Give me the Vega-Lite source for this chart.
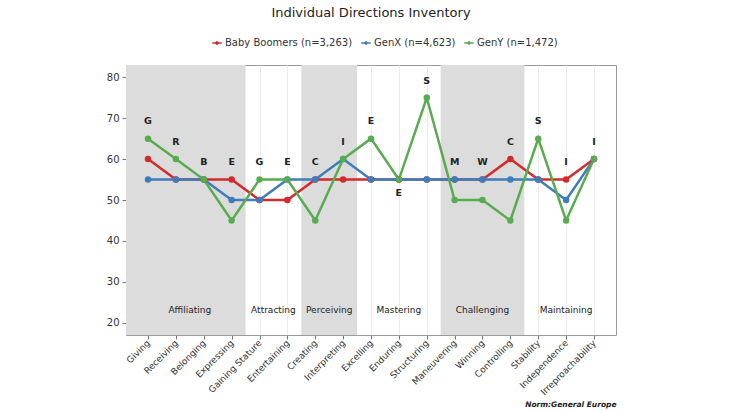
{
  "$schema": "https://vega.github.io/schema/vega-lite/v6.json",
  "width": 490,
  "height": 270,
  "autosize": {"type": "none"},
  "padding": {"left": 126, "top": 65, "right": 113, "bottom": 76},
  "background": "white",
  "title": {
    "text": "Individual Directions Inventory",
    "font": "DejaVu Sans",
    "fontSize": 13,
    "fontWeight": "normal",
    "color": "#222222",
    "anchor": "middle",
    "frame": "group",
    "offset": 18
  },
  "config": {
    "view": {"stroke": "#9a9a9a", "strokeWidth": 1},
    "font": "DejaVu Sans",
    "axis": {
      "labelFont": "DejaVu Sans",
      "labelColor": "#333333",
      "gridColor": "#ebebeb",
      "gridWidth": 1,
      "tickColor": "#777777",
      "tickSize": 4,
      "domain": false,
      "zindex": 1
    },
    "axisX": {"labelOverlap": false, "tickCount": 17}
  },
  "datasets": {
    "scores": [
      {"idx": 0, "direction": "Giving", "series": "Baby Boomers (n=3,263)", "value": 60},
      {"idx": 1, "direction": "Receiving", "series": "Baby Boomers (n=3,263)", "value": 55},
      {"idx": 2, "direction": "Belonging", "series": "Baby Boomers (n=3,263)", "value": 55},
      {"idx": 3, "direction": "Expressing", "series": "Baby Boomers (n=3,263)", "value": 55},
      {"idx": 4, "direction": "Gaining Stature", "series": "Baby Boomers (n=3,263)", "value": 50},
      {"idx": 5, "direction": "Entertaining", "series": "Baby Boomers (n=3,263)", "value": 50},
      {"idx": 6, "direction": "Creating", "series": "Baby Boomers (n=3,263)", "value": 55},
      {"idx": 7, "direction": "Interpreting", "series": "Baby Boomers (n=3,263)", "value": 55},
      {"idx": 8, "direction": "Excelling", "series": "Baby Boomers (n=3,263)", "value": 55},
      {"idx": 9, "direction": "Enduring", "series": "Baby Boomers (n=3,263)", "value": 55},
      {"idx": 10, "direction": "Structuring", "series": "Baby Boomers (n=3,263)", "value": 55},
      {"idx": 11, "direction": "Maneuvering", "series": "Baby Boomers (n=3,263)", "value": 55},
      {"idx": 12, "direction": "Winning", "series": "Baby Boomers (n=3,263)", "value": 55},
      {"idx": 13, "direction": "Controlling", "series": "Baby Boomers (n=3,263)", "value": 60},
      {"idx": 14, "direction": "Stability", "series": "Baby Boomers (n=3,263)", "value": 55},
      {"idx": 15, "direction": "Independence", "series": "Baby Boomers (n=3,263)", "value": 55},
      {"idx": 16, "direction": "Irreproachability", "series": "Baby Boomers (n=3,263)", "value": 60},
      {"idx": 0, "direction": "Giving", "series": "GenX (n=4,623)", "value": 55},
      {"idx": 1, "direction": "Receiving", "series": "GenX (n=4,623)", "value": 55},
      {"idx": 2, "direction": "Belonging", "series": "GenX (n=4,623)", "value": 55},
      {"idx": 3, "direction": "Expressing", "series": "GenX (n=4,623)", "value": 50},
      {"idx": 4, "direction": "Gaining Stature", "series": "GenX (n=4,623)", "value": 50},
      {"idx": 5, "direction": "Entertaining", "series": "GenX (n=4,623)", "value": 55},
      {"idx": 6, "direction": "Creating", "series": "GenX (n=4,623)", "value": 55},
      {"idx": 7, "direction": "Interpreting", "series": "GenX (n=4,623)", "value": 60},
      {"idx": 8, "direction": "Excelling", "series": "GenX (n=4,623)", "value": 55},
      {"idx": 9, "direction": "Enduring", "series": "GenX (n=4,623)", "value": 55},
      {"idx": 10, "direction": "Structuring", "series": "GenX (n=4,623)", "value": 55},
      {"idx": 11, "direction": "Maneuvering", "series": "GenX (n=4,623)", "value": 55},
      {"idx": 12, "direction": "Winning", "series": "GenX (n=4,623)", "value": 55},
      {"idx": 13, "direction": "Controlling", "series": "GenX (n=4,623)", "value": 55},
      {"idx": 14, "direction": "Stability", "series": "GenX (n=4,623)", "value": 55},
      {"idx": 15, "direction": "Independence", "series": "GenX (n=4,623)", "value": 50},
      {"idx": 16, "direction": "Irreproachability", "series": "GenX (n=4,623)", "value": 60},
      {"idx": 0, "direction": "Giving", "series": "GenY (n=1,472)", "value": 65},
      {"idx": 1, "direction": "Receiving", "series": "GenY (n=1,472)", "value": 60},
      {"idx": 2, "direction": "Belonging", "series": "GenY (n=1,472)", "value": 55},
      {"idx": 3, "direction": "Expressing", "series": "GenY (n=1,472)", "value": 45},
      {"idx": 4, "direction": "Gaining Stature", "series": "GenY (n=1,472)", "value": 55},
      {"idx": 5, "direction": "Entertaining", "series": "GenY (n=1,472)", "value": 55},
      {"idx": 6, "direction": "Creating", "series": "GenY (n=1,472)", "value": 45},
      {"idx": 7, "direction": "Interpreting", "series": "GenY (n=1,472)", "value": 60},
      {"idx": 8, "direction": "Excelling", "series": "GenY (n=1,472)", "value": 65},
      {"idx": 9, "direction": "Enduring", "series": "GenY (n=1,472)", "value": 55},
      {"idx": 10, "direction": "Structuring", "series": "GenY (n=1,472)", "value": 75},
      {"idx": 11, "direction": "Maneuvering", "series": "GenY (n=1,472)", "value": 50},
      {"idx": 12, "direction": "Winning", "series": "GenY (n=1,472)", "value": 50},
      {"idx": 13, "direction": "Controlling", "series": "GenY (n=1,472)", "value": 45},
      {"idx": 14, "direction": "Stability", "series": "GenY (n=1,472)", "value": 65},
      {"idx": 15, "direction": "Independence", "series": "GenY (n=1,472)", "value": 45},
      {"idx": 16, "direction": "Irreproachability", "series": "GenY (n=1,472)", "value": 60}
    ],
    "groups": [
      {"group": "Affiliating", "start": -1, "end": 3.5, "mid": 1.5, "shaded": true},
      {"group": "Attracting", "start": 3.5, "end": 5.5, "mid": 4.5, "shaded": false},
      {"group": "Perceiving", "start": 5.5, "end": 7.5, "mid": 6.5, "shaded": true},
      {"group": "Mastering", "start": 7.5, "end": 10.5, "mid": 9, "shaded": false},
      {"group": "Challenging", "start": 10.5, "end": 13.5, "mid": 12, "shaded": true},
      {"group": "Maintaining", "start": 13.5, "end": 17, "mid": 15, "shaded": false}
    ],
    "letters": [
      {"idx": 0, "letter": "G", "pos": 69.2},
      {"idx": 1, "letter": "R", "pos": 64.2},
      {"idx": 2, "letter": "B", "pos": 59.2},
      {"idx": 3, "letter": "E", "pos": 59.2},
      {"idx": 4, "letter": "G", "pos": 59.2},
      {"idx": 5, "letter": "E", "pos": 59.2},
      {"idx": 6, "letter": "C", "pos": 59.2},
      {"idx": 7, "letter": "I", "pos": 64.2},
      {"idx": 8, "letter": "E", "pos": 69.2},
      {"idx": 9, "letter": "E", "pos": 51.8},
      {"idx": 10, "letter": "S", "pos": 79.2},
      {"idx": 11, "letter": "M", "pos": 59.2},
      {"idx": 12, "letter": "W", "pos": 59.2},
      {"idx": 13, "letter": "C", "pos": 64.2},
      {"idx": 14, "letter": "S", "pos": 69.2},
      {"idx": 15, "letter": "I", "pos": 59.2},
      {"idx": 16, "letter": "I", "pos": 64.2}
    ]
  },
  "layer": [
    {
      "data": {"name": "groups"},
      "transform": [{"filter": "datum.shaded"}],
      "mark": {"type": "rect", "color": "#dcdcdc", "clip": true},
      "encoding": {
        "x": {
          "field": "start",
          "type": "quantitative",
          "scale": {"domain": [-0.79, 16.79], "nice": false, "zero": false},
          "axis": {
            "tickCount": 17,
            "labelExpr": "['Giving','Receiving','Belonging','Expressing','Gaining Stature','Entertaining','Creating','Interpreting','Excelling','Enduring','Structuring','Maneuvering','Winning','Controlling','Stability','Independence','Irreproachability'][datum.value]",
            "labelAngle": -45,
            "labelAlign": "right",
            "labelBaseline": "middle",
            "labelFontSize": 9,
            "labelPadding": 2,
            "labelOverlap": false,
            "labelBound": false,
            "labelFlush": false,
            "title": "Norm:General Europe",
            "titleAnchor": "end",
            "titleFontSize": 7.5,
            "titleFontStyle": "italic",
            "titleFontWeight": "bold",
            "titleColor": "#222222",
            "titlePadding": 4
          }
        },
        "x2": {"field": "end"},
        "y": {"datum": 17, "type": "quantitative", "scale": {"domain": [17, 83], "nice": false, "zero": false},
          "axis": {
            "values": [20, 30, 40, 50, 60, 70, 80],
            "labelFontSize": 10,
            "labelPadding": 3,
            "title": null
          }},
        "y2": {"datum": 83}
      }
    },
    {
      "data": {"name": "groups"},
      "mark": {"type": "text", "fontSize": 9, "color": "#222222", "baseline": "middle", "zindex": 2},
      "encoding": {
        "x": {"field": "mid", "type": "quantitative"},
        "y": {"datum": 23.2, "type": "quantitative"},
        "text": {"field": "group"}
      }
    },
    {
      "mark": {"type": "rule", "color": "#444444", "strokeWidth": 1, "zindex": 2},
      "encoding": {"y": {"datum": 50, "type": "quantitative"}}
    },
    {
      "data": {"name": "scores"},
      "mark": {"type": "line", "strokeWidth": 2.5, "zindex": 2},
      "encoding": {
        "x": {"field": "idx", "type": "quantitative"},
        "y": {"field": "value", "type": "quantitative"},
        "color": {
          "field": "series",
          "type": "nominal",
          "scale": {
            "domain": ["Baby Boomers (n=3,263)", "GenX (n=4,623)", "GenY (n=1,472)"],
            "range": ["#d42a2b", "#3e7cba", "#58ac4f"]
          },
          "legend": {
            "orient": "none",
            "legendX": 86,
            "legendY": -27,
            "direction": "horizontal",
            "title": null,
            "labelFontSize": 10,
            "labelFont": "DejaVu Sans",
            "labelColor": "#333333",
            "columnPadding": 8,
            "symbolType": "M-1,-0.15L1,-0.15L1,0.15L-1,0.15Z M-0.5,0L0,-0.5L0.5,0L0,0.5Z",
            "symbolSize": 90,
            "symbolStrokeWidth": 0,
            "labelOffset": 3
          }
        }
      }
    },
    {
      "data": {"name": "scores"},
      "mark": {"type": "circle", "size": 42, "opacity": 1, "zindex": 2},
      "encoding": {
        "x": {"field": "idx", "type": "quantitative"},
        "y": {"field": "value", "type": "quantitative"},
        "color": {"field": "series", "type": "nominal"}
      }
    },
    {
      "data": {"name": "letters"},
      "mark": {"type": "text", "fontSize": 9.5, "fontWeight": "bold", "color": "#222222", "baseline": "middle", "zindex": 2},
      "encoding": {
        "x": {"field": "idx", "type": "quantitative"},
        "y": {"field": "pos", "type": "quantitative"},
        "text": {"field": "letter"}
      }
    }
  ]
}
